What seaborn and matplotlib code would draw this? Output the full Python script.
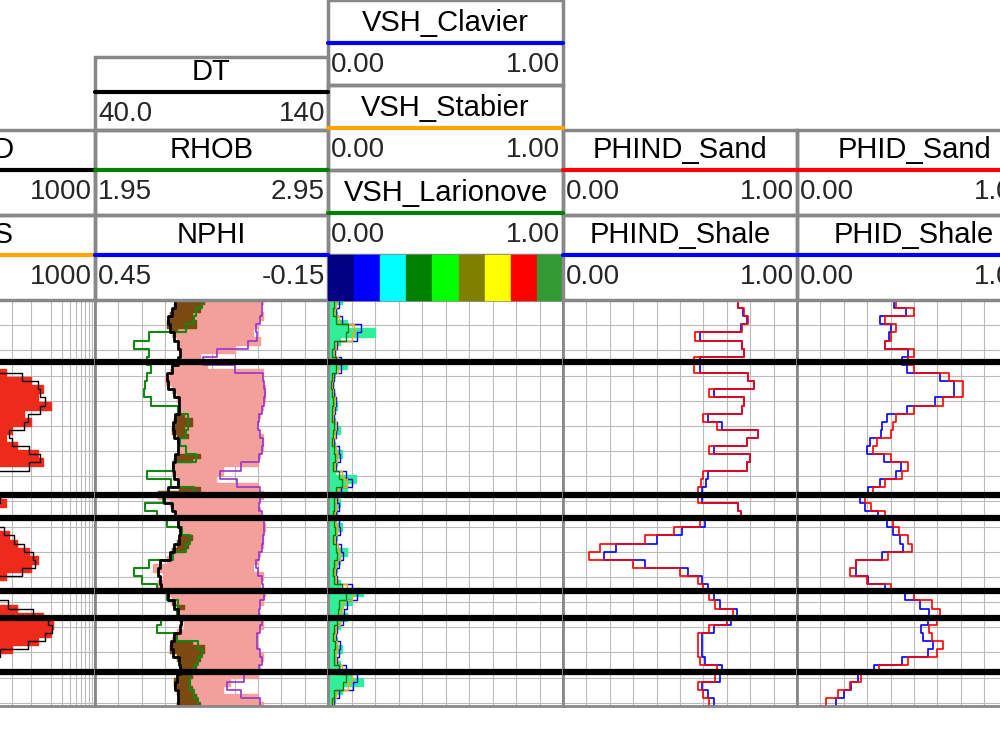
import numpy as np
import matplotlib
matplotlib.use("Agg")
import matplotlib.pyplot as plt
import seaborn as sns
from matplotlib.patches import Rectangle

sns.set_theme(style="white")
plt.rcParams['font.family'] = ['Liberation Sans', 'DejaVu Sans']

depth = list(range(0, 101, 2))  # 51 samples
tops = [15.3, 48.0, 53.6, 71.6, 78.3, 91.6]

res_deep = [15,10,20,8,15,10,5,5,8,40,100,150,125,200,75,100,50,40,60,125,150,30,15,10,25,40,15,20,30,45,60,90,125,100,40,10,15,25,60,150,220,200,125,50,15,10,8,5,10,8,5]
rhob = [2.30,2.29,2.27,2.26,2.28,2.30,2.31,2.32,2.29,2.27,2.25,2.28,2.30,2.32,2.30,2.29,2.28,2.30,2.31,2.30,2.29,2.28,2.30,2.31,2.22,2.27,2.29,2.30,2.31,2.32,2.30,2.28,2.26,2.20,2.24,2.22,2.25,2.28,2.30,2.31,2.33,2.30,2.28,2.27,2.30,2.32,2.31,2.29,2.30,2.31,2.30]
nphi = [0.17,0.18,0.20,0.19,0.24,0.38,0.32,0.30,0.33,0.28,0.35,0.29,0.36,0.25,0.22,0.20,0.22,0.21,0.25,0.18,0.20,0.30,0.33,0.18,0.21,0.34,0.30,0.28,0.25,0.20,0.21,0.22,0.28,0.34,0.36,0.30,0.28,0.25,0.22,0.26,0.30,0.28,0.20,0.17,0.18,0.19,0.20,0.21,0.20,0.19,0.18]
dt = [112,111,112,110,108,111,100,85,88,112,112,113,113,112,111,110,110,112,112,111,110,95,92,110,112,110,111,112,113,112,112,111,110,108,112,111,113,112,110,111,112,110,109,110,112,111,110,98,95,110,112]
vsh1 = [0.06,0.03,0.04,0.08,0.20,0.05,0.03,0.03,0.08,0.03,0.02,0.02,0.03,0.04,0.02,0.03,0.05,0.02,0.03,0.06,0.04,0.03,0.12,0.08,0.03,0.05,0.04,0.03,0.06,0.04,0.03,0.08,0.05,0.04,0.03,0.05,0.15,0.10,0.06,0.08,0.05,0.03,0.04,0.06,0.03,0.05,0.10,0.15,0.06,0.03,0.02]
vsh2 = [v*0.8 for v in vsh1]
vsh3 = [v*0.6 for v in vsh1]
phind_sand = [0.55,0.95,0.60,0.98,0.55,0.58,0.95,0.60,0.52,0.60,0.98,0.65,0.60,0.95,0.58,0.62,0.70,0.97,0.60,0.65,0.95,0.62,0.58,0.60,0.55,0.60,0.90,0.62,0.55,0.40,0.30,0.02,0.20,0.40,0.60,0.55,0.65,0.60,0.70,0.75,0.65,0.60,0.55,0.60,0.55,0.62,0.70,0.60,0.55,0.65,0.60]
phind_shale = [0.58,0.92,0.62,0.95,0.57,0.60,0.93,0.62,0.55,0.62,0.96,0.67,0.62,0.93,0.60,0.64,0.72,0.95,0.62,0.67,0.93,0.64,0.60,0.62,0.57,0.62,0.88,0.64,0.57,0.45,0.35,0.10,0.25,0.45,0.62,0.57,0.67,0.62,0.72,0.77,0.67,0.62,0.57,0.62,0.57,0.64,0.72,0.62,0.57,0.67,0.62]
phid_sand = [0.25,0.60,0.40,0.35,0.50,0.30,0.45,0.55,0.40,0.60,0.70,0.72,0.70,0.55,0.45,0.40,0.42,0.38,0.30,0.35,0.45,0.50,0.40,0.35,0.30,0.28,0.35,0.40,0.42,0.45,0.50,0.48,0.30,0.20,0.25,0.35,0.45,0.55,0.60,0.62,0.58,0.55,0.60,0.65,0.55,0.40,0.30,0.25,0.20,0.15,0.10]
phid_shale = [0.28,0.55,0.38,0.33,0.47,0.32,0.43,0.52,0.38,0.56,0.66,0.68,0.66,0.52,0.42,0.35,0.38,0.34,0.28,0.32,0.42,0.47,0.38,0.33,0.28,0.26,0.32,0.37,0.40,0.42,0.46,0.45,0.28,0.22,0.28,0.33,0.42,0.50,0.55,0.58,0.54,0.52,0.56,0.60,0.52,0.38,0.28,0.24,0.22,0.18,0.15]
bar_colors = ["#000080", "#0000ff", "#00ffff", "#008000", "#00ff00", "#808000", "#ffff00", "#ff0000", "#339933"]

W, H = 1000, 750
fig = plt.figure(figsize=(10, 7.5), dpi=100)

def ax_at(x0, x1, y0=300, y1=706):
    return fig.add_axes([x0 / W, 1 - y1 / H, (x1 - x0) / W, (y1 - y0) / H])

def box(x0, x1, y0, y1, title, lcol, lo, hi, ly, tx=None, ha="center"):
    fig.patches.append(Rectangle((x0 / W, 1 - y1 / H), (x1 - x0) / W, (y1 - y0) / H,
                                 transform=fig.transFigure, fill=False, ec="#888888", lw=2.5))
    fig.text(((x0 + x1) / 2 if tx is None else tx) / W, 1 - (ly - 20) / H, title, ha=ha, va="center", fontsize=21, color="black")
    fig.add_artist(plt.Line2D([x0 / W, x1 / W], [1 - ly / H] * 2, color=lcol, lw=3, transform=fig.transFigure))
    fig.text((x0 + 3) / W, 1 - (ly + 22) / H, lo, ha="left", va="center", fontsize=20)
    fig.text((x1 - 3) / W, 1 - (ly + 22) / H, hi, ha="right", va="center", fontsize=20)

def style(ax, xlim, log=False):
    if log:
        ax.set_xscale("log")
    ax.set_xlim(xlim)
    ax.set_ylim(100, 0)
    if log:
        ax.set_xticks([0.2, 0.3, 0.5, 1, 2, 3, 5, 10, 20, 30, 50, 100, 200, 300, 400, 500, 600, 700, 800, 900, 1000])
        ax.set_xticks([], minor=True)
    else:
        ax.set_xticks(np.linspace(xlim[0], xlim[1], 11))
    ax.set_yticks(np.arange(0, 101, 6.2))
    ax.grid(True, color="#bbbbbb", lw=0.8)
    ax.tick_params(labelbottom=False, labelleft=False, length=0)
    for s in ax.spines.values():
        s.set_color("#888888"); s.set_linewidth(2)
    for t in tops:
        ax.axhline(t, color="black", lw=4.5, zorder=5)

# Track 1 (partially off-canvas)
ax1 = ax_at(-140, 95)
style(ax1, (0.2, 1000), log=True)
ax1.fill_betweenx(depth, 0.2, res_deep, color="#ee2a1a", step="mid", zorder=2)
sns.lineplot(x=res_deep, y=depth, sort=False, estimator=None, orient="y", ax=ax1, color="black", lw=1, drawstyle="steps-mid")
box(-140, 95, 130, 215, "ILD", "black", "", "1000", 170, tx=15, ha="right")
box(-140, 95, 215, 300, "GRS", "orange", "", "1000", 255, tx=13, ha="right")

# Track 2
ax2 = ax_at(95, 328)
style(ax2, (1.95, 2.95))
nphi_x = [1.95 + (0.45 - v) / 0.6 for v in nphi]
dt_x = [1.95 + (v - 40) / 100 for v in dt]
ax2.fill_betweenx(depth, rhob, dt_x, color="#f4a09a", step="mid", zorder=2)
ax2.fill_betweenx(depth, nphi_x, rhob, where=[a > b for a, b in zip(nphi_x, rhob)], color="#7a4a10", step="mid", zorder=2)
sns.lineplot(x=dt_x, y=depth, sort=False, estimator=None, orient="y", ax=ax2, color="#9933cc", lw=1.2, drawstyle="steps-mid")
sns.lineplot(x=nphi_x, y=depth, sort=False, estimator=None, orient="y", ax=ax2, color="#118811", lw=1.5, drawstyle="steps-mid")
sns.lineplot(x=rhob, y=depth, sort=False, estimator=None, orient="y", ax=ax2, color="black", lw=2, drawstyle="steps-mid")
box(95, 328, 57, 130, "DT", "black", "40.0", "140", 92)
box(95, 328, 130, 215, "RHOB", "green", "1.95", "2.95", 170)
box(95, 328, 215, 300, "NPHI", "blue", "0.45", "-0.15", 255)

# Track 3
ax3 = ax_at(328, 563)
style(ax3, (0, 1))
ax3.fill_betweenx(depth, 0, vsh1, color="#33ee99", step="mid", zorder=2)
for v, c in [(vsh1, "blue"), (vsh2, "orange"), (vsh3, "green")]:
    sns.lineplot(x=v, y=depth, sort=False, estimator=None, orient="y", ax=ax3, color=c, lw=1, drawstyle="steps-mid")
box(328, 563, 0, 85, "VSH_Clavier", "blue", "0.00", "1.00", 43)
box(328, 563, 85, 170, "VSH_Stabier", "orange", "0.00", "1.00", 128)
box(328, 563, 170, 255, "VSH_Larionove", "green", "0.00", "1.00", 213)
cw = (563 - 328) / len(bar_colors)
for i, c in enumerate(bar_colors):
    fig.patches.append(Rectangle(((328 + i * cw) / W, 1 - 300 / H), cw / W, 45 / H, transform=fig.transFigure, color=c))

# Track 4
ax4 = ax_at(563, 797)
style(ax4, (0, 1))
sns.lineplot(x=phind_shale, y=depth, sort=False, estimator=None, orient="y", ax=ax4, color="blue", lw=1.2, drawstyle="steps-mid")
sns.lineplot(x=phind_sand, y=depth, sort=False, estimator=None, orient="y", ax=ax4, color="red", lw=1.2, drawstyle="steps-mid")
box(563, 797, 130, 215, "PHIND_Sand", "red", "0.00", "1.00", 170)
box(563, 797, 215, 300, "PHIND_Shale", "blue", "0.00", "1.00", 255)

# Track 5 (cut off at right)
ax5 = ax_at(797, 1031)
style(ax5, (0, 1))
sns.lineplot(x=phid_shale, y=depth, sort=False, estimator=None, orient="y", ax=ax5, color="blue", lw=1.2, drawstyle="steps-mid")
sns.lineplot(x=phid_sand, y=depth, sort=False, estimator=None, orient="y", ax=ax5, color="red", lw=1.2, drawstyle="steps-mid")
box(797, 1031, 130, 215, "PHID_Sand", "red", "0.00", "1.00", 170)
box(797, 1031, 215, 300, "PHID_Shale", "blue", "0.00", "1.00", 255)

fig.savefig("out.png", dpi=100)
